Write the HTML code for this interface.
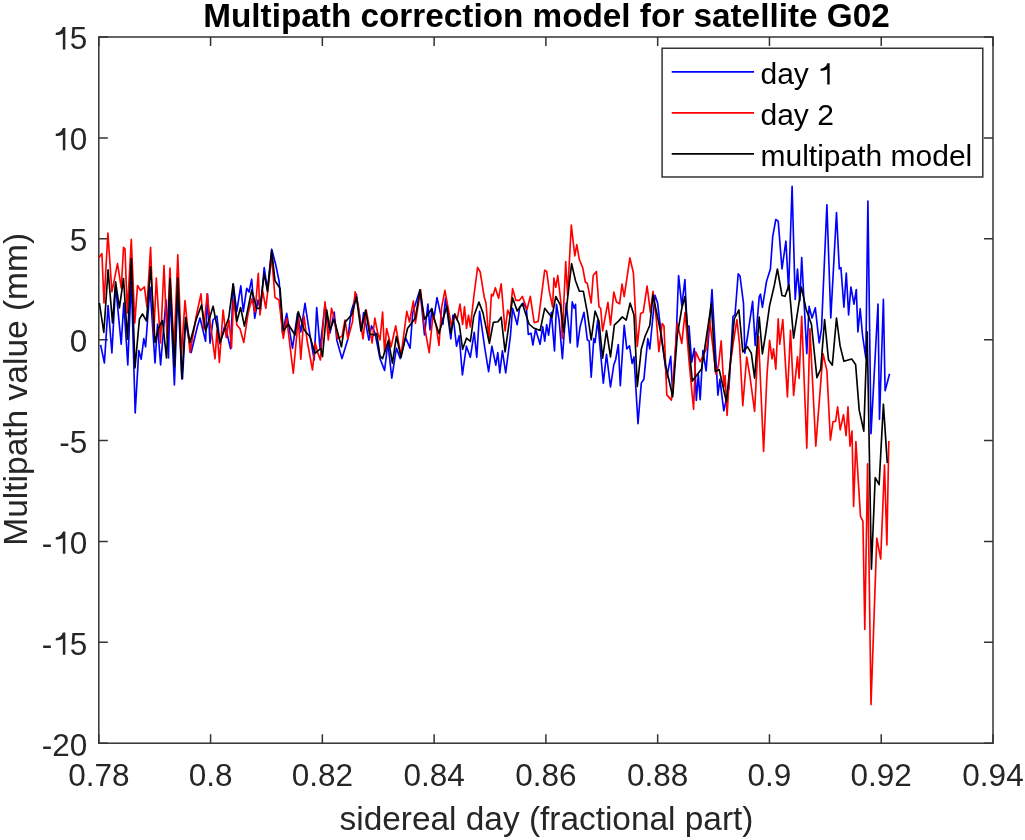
<!DOCTYPE html><html><head><meta charset="utf-8"><style>html,body{margin:0;padding:0;background:#fff;width:1025px;height:840px;overflow:hidden}svg{display:block;will-change:transform}</style></head><body><svg width="1025" height="840" viewBox="0 0 1025 840"><rect x="98.8" y="37.0" width="894.20" height="706.20" fill="none" stroke="#333333" stroke-width="1.5"/><path d="M98.80 743.2V734.2M98.80 37.0V46.0M210.58 743.2V734.2M210.58 37.0V46.0M322.35 743.2V734.2M322.35 37.0V46.0M434.13 743.2V734.2M434.13 37.0V46.0M545.90 743.2V734.2M545.90 37.0V46.0M657.67 743.2V734.2M657.67 37.0V46.0M769.45 743.2V734.2M769.45 37.0V46.0M881.23 743.2V734.2M881.23 37.0V46.0M993.00 743.2V734.2M993.00 37.0V46.0M98.8 743.20H107.8M993.0 743.20H984.0M98.8 642.31H107.8M993.0 642.31H984.0M98.8 541.43H107.8M993.0 541.43H984.0M98.8 440.54H107.8M993.0 440.54H984.0M98.8 339.66H107.8M993.0 339.66H984.0M98.8 238.77H107.8M993.0 238.77H984.0M98.8 137.89H107.8M993.0 137.89H984.0M98.8 37.00H107.8M993.0 37.00H984.0" fill="none" stroke="#333333" stroke-width="1.5"/><g font-family="Liberation Sans, sans-serif" font-size="31.5" fill="#262626"><text x="98.80" y="786" text-anchor="middle">0.78</text><text x="210.58" y="786" text-anchor="middle">0.8</text><text x="322.35" y="786" text-anchor="middle">0.82</text><text x="434.13" y="786" text-anchor="middle">0.84</text><text x="545.90" y="786" text-anchor="middle">0.86</text><text x="657.67" y="786" text-anchor="middle">0.88</text><text x="769.45" y="786" text-anchor="middle">0.9</text><text x="881.23" y="786" text-anchor="middle">0.92</text><text x="993.00" y="786" text-anchor="middle">0.94</text><text x="41.78" y="755.60">-</text><text x="52.27" y="755.60">2</text><text x="69.79" y="755.60">0</text><text x="41.78" y="654.71">-</text><text x="69.79" y="654.71">5</text><text x="41.78" y="553.83">-</text><text x="69.79" y="553.83">0</text><text x="59.30" y="452.94">-</text><text x="69.79" y="452.94">5</text><text x="69.79" y="352.06">0</text><text x="69.79" y="251.17">5</text><text x="69.79" y="150.29">0</text><text x="69.79" y="49.40">5</text></g><path d="M65.34 632.38L65.34 654.71L62.82 654.71L62.82 638.81C61.09 640.07 58.26 640.38 55.74 640.38L55.74 638.18C59.20 637.86 62.04 635.81 62.82 632.38ZM65.34 531.50L65.34 553.83L62.82 553.83L62.82 537.92C61.09 539.18 58.26 539.50 55.74 539.50L55.74 537.29C59.20 536.98 62.04 534.93 62.82 531.50ZM65.34 127.95L65.34 150.29L62.82 150.29L62.82 134.38C61.09 135.64 58.26 135.95 55.74 135.95L55.74 133.75C59.20 133.43 62.04 131.39 62.82 127.95ZM65.34 27.07L65.34 49.40L62.82 49.40L62.82 33.49C61.09 34.75 58.26 35.07 55.74 35.07L55.74 32.86C59.20 32.55 62.04 30.50 62.82 27.07Z" fill="#262626"/><text x="546.5" y="26.8" text-anchor="middle" font-family="Liberation Sans, sans-serif" font-weight="bold" font-size="33.3" fill="#000">Multipath correction model for satellite G02</text><text x="546.5" y="829.6" text-anchor="middle" font-family="Liberation Sans, sans-serif" font-size="33.4" fill="#262626">sidereal day (fractional part)</text><text transform="translate(26.8 389.3) rotate(-90)" x="0" y="0" text-anchor="middle" font-family="Liberation Sans, sans-serif" font-size="33.5" fill="#262626">Multipath value (mm)</text><path d="M100.6 344.9 104.4 363.0 108.1 305.5 111.9 353.0 115.6 285.5 121.2 344.2 123.8 303.0 127.8 364.9 131.3 278.0 135.2 413.0 138.8 350.5 141.2 359.2 143.8 338.6 145.6 346.8 150.0 287.0 155.0 363.0 157.5 324.2 160.6 364.9 166.0 300.0 168.5 358.0 170.0 290.5 174.4 384.9 177.8 290.5 181.9 378.6 182.5 378.8 185.6 321.2 191.2 352.5 197.5 326.2 200.0 318.0 205.6 341.2 207.5 293.8 210.0 343.1 213.0 320.0 216.9 316.2 220.0 343.8 225.0 325.0 230.6 348.8 233.3 284.2 236.7 311.7 240.8 285.8 243.3 311.7 246.7 288.3 249.0 292.0 251.7 279.2 254.7 318.3 258.0 300.0 260.5 310.0 264.2 267.5 267.5 290.0 271.7 249.2 275.8 265.0 279.2 281.7 282.5 333.3 286.7 313.3 292.5 348.3 297.5 313.3 300.8 332.0 305.0 303.3 308.3 325.0 314.2 360.0 316.7 307.5 320.0 348.0 325.0 305.0 330.0 333.0 334.2 312.1 336.8 340.2 342.0 358.6 347.9 338.9 351.2 311.4 356.4 294.4 361.7 329.8 363.6 312.7 368.9 340.2 371.5 325.8 375.0 333.0 380.0 358.6 384.6 370.4 387.9 342.9 391.8 378.2 396.4 348.1 400.3 358.6 405.5 337.6 410.1 348.1 412.7 312.7 420.0 289.8 424.5 335.0 427.9 304.1 430.0 330.0 431.8 308.7 434.0 318.0 437.0 297.6 442.9 324.4 445.5 298.2 450.8 338.8 453.0 315.0 456.5 346.2 459.2 335.7 462.4 375.0 466.4 346.2 470.3 357.3 474.2 332.4 476.8 357.3 479.6 311.3 484.7 347.5 488.6 371.7 491.9 346.2 495.8 365.2 497.8 352.7 499.8 373.0 502.4 350.8 505.7 373.0 510.4 336.2 512.6 308.3 517.2 324.7 519.8 307.0 523.1 303.1 526.4 308.3 528.3 334.5 531.0 333.2 532.9 345.0 535.5 329.3 540.1 344.3 542.7 326.7 544.7 341.1 546.7 324.7 548.6 335.2 551.3 312.3 554.5 350.9 556.5 304.4 559.1 320.1 562.4 358.8 566.3 303.1 570.2 343.0 572.2 301.8 574.2 308.3 575.5 304.4 577.4 347.0 580.1 326.7 584.0 312.3 587.3 339.8 589.2 341.1 591.2 377.1 593.8 338.5 595.1 342.4 597.7 320.1 603.3 383.1 606.5 354.3 610.5 387.0 613.8 364.8 615.7 359.5 618.3 344.5 620.3 385.7 624.2 325.4 626.8 349.0 629.5 345.8 632.1 363.5 634.0 356.9 638.0 423.7 641.3 383.1 643.9 379.2 647.8 338.6 649.8 349.0 655.0 295.2 657.6 303.1 661.6 337.1 666.8 377.9 670.7 356.3 672.7 393.6 676.0 341.2 678.6 275.6 681.8 305.7 684.9 279.5 687.1 326.7 689.0 326.0 691.7 362.1 694.3 348.4 696.3 400.4 698.3 374.8 700.2 399.7 702.9 350.6 706.1 370.9 712.0 289.6 717.9 395.1 719.9 379.4 723.8 410.8 729.0 387.3 733.0 316.4 735.0 315.0 738.2 273.9 740.0 276.0 743.5 303.3 744.8 353.2 747.4 337.5 752.6 301.4 755.2 345.4 759.2 296.8 760.5 294.2 762.4 307.3 766.5 281.5 770.4 269.0 772.7 236.6 775.8 219.5 778.2 221.1 782.0 269.0 785.9 241.2 788.6 290.0 792.1 186.3 795.2 299.4 797.5 269.0 799.8 301.0 801.7 257.5 806.8 353.6 809.1 306.4 812.0 318.0 815.3 307.9 819.2 342.8 821.5 328.8 826.9 204.8 830.8 318.0 836.5 212.6 839.3 269.0 840.9 267.5 843.9 307.2 846.3 273.0 848.6 314.9 850.9 287.0 854.0 304.1 856.3 289.5 857.9 331.9 860.2 308.7 862.5 335.0 865.8 358.0 867.9 201.0 871.0 433.7 878.0 304.1 879.5 419.3 883.4 299.4 885.1 390.7 889.6 373.8" fill="none" stroke="#0000ff" stroke-width="1.65" stroke-linejoin="round"/><path d="M98.8 258.0 101.9 253.6 104.0 303.0 107.9 233.0 111.9 291.8 117.5 263.6 121.3 288.0 123.5 247.4 125.0 249.0 127.3 313.0 131.3 239.3 134.8 323.0 137.5 285.5 140.6 290.5 144.4 286.8 146.9 306.8 150.6 247.4 153.8 334.0 156.3 278.0 160.5 343.0 164.0 265.5 167.0 338.0 170.0 268.0 174.0 350.0 177.8 254.9 181.5 354.0 185.0 300.5 190.0 352.5 196.2 316.2 201.0 293.8 203.8 328.8 207.2 293.8 210.0 321.2 215.0 358.8 217.0 330.0 219.4 362.5 223.1 310.0 226.2 337.5 229.0 320.0 231.5 348.0 233.5 300.0 236.9 325.0 240.0 328.8 243.8 342.5 248.0 313.8 251.9 298.8 255.0 312.0 258.3 273.3 260.0 315.0 262.5 290.0 265.8 308.3 271.7 256.7 275.0 297.5 279.0 300.0 283.3 338.3 286.7 318.3 293.3 373.3 298.3 317.5 300.8 359.2 304.0 316.0 307.0 340.0 312.5 370.0 315.2 343.0 317.5 352.0 320.4 360.0 325.0 301.7 328.3 340.0 331.5 308.2 334.8 320.6 337.4 338.9 342.0 336.3 345.0 320.0 347.9 338.9 352.5 321.9 355.1 291.8 358.0 305.0 363.0 338.9 366.2 310.1 369.0 325.0 372.1 342.9 374.8 318.0 377.4 331.7 380.0 340.0 382.6 312.1 384.6 353.3 386.6 328.5 391.1 346.8 395.7 325.8 401.0 356.0 406.8 311.4 409.5 322.0 413.4 301.0 415.4 323.2 420.6 289.8 423.9 323.2 429.2 352.6 433.1 313.9 436.0 325.0 439.0 345.4 441.6 307.4 444.9 290.4 451.4 325.7 454.7 315.2 457.0 320.0 460.0 304.1 462.6 324.4 464.5 306.7 466.5 328.3 468.5 315.2 470.4 327.0 474.0 295.0 477.6 267.4 480.2 272.0 484.2 296.9 486.0 303.0 488.8 340.1 491.4 294.3 493.0 296.0 495.3 287.7 498.6 298.2 501.2 283.8 505.1 331.0 507.7 310.0 510.0 316.0 512.6 288.6 515.9 300.4 519.2 300.4 522.4 296.4 527.0 309.5 530.3 296.4 534.2 322.7 538.2 321.4 544.7 270.2 546.7 271.5 549.3 291.2 552.6 306.9 553.9 278.1 555.8 287.3 557.8 275.5 561.1 304.3 562.2 338.5 565.7 261.7 567.6 295.1 571.3 225.1 574.8 255.8 576.8 244.7 579.4 259.8 582.7 267.6 585.3 282.0 587.3 283.3 591.2 303.0 593.2 275.5 596.4 271.5 599.0 306.9 600.7 308.3 602.6 331.0 607.9 302.4 610.5 325.0 613.8 292.0 616.4 301.8 619.6 303.8 622.0 284.1 624.2 296.6 629.9 257.9 633.4 273.0 635.4 311.0 637.3 346.4 640.6 313.6 643.2 312.3 647.1 286.1 650.4 312.3 653.0 291.3 656.3 318.8 658.9 351.7 662.2 323.5 664.0 326.0 666.8 394.9 671.4 400.1 674.0 370.0 677.3 323.0 681.8 343.5 685.1 312.3 689.0 360.8 693.6 409.3 695.7 351.9 700.2 361.7 703.0 356.0 706.8 348.0 709.6 319.0 716.0 374.2 718.5 365.0 721.2 340.8 723.8 387.3 725.1 375.5 727.1 415.4 729.7 368.9 733.0 345.0 736.9 319.5 739.5 344.0 742.8 405.6 746.7 357.1 750.0 376.8 754.6 411.5 758.5 336.2 763.6 451.5 766.7 381.0 767.3 370.6 769.6 340.4 772.0 359.0 773.5 348.9 775.8 369.1 778.2 318.8 779.7 344.3 782.8 319.5 787.4 396.9 790.5 330.4 793.6 395.4 797.5 356.7 799.1 378.4 801.7 316.4 806.8 448.1 809.9 328.8 815.8 446.1 823.0 353.6 826.9 370.6 830.4 440.2 833.0 421.9 835.6 421.3 837.6 406.8 840.2 429.8 843.5 414.7 846.1 435.7 848.0 406.8 850.0 446.1 852.0 431.1 853.6 506.4 855.9 441.6 860.5 516.4 862.9 521.1 864.8 629.5 867.6 463.8 871.0 704.6 876.8 538.1 880.7 559.0 884.5 465.0 886.9 545.1 888.8 440.9" fill="none" stroke="#ff0000" stroke-width="1.65" stroke-linejoin="round"/><path d="M99.4 303.0 103.8 332.4 108.1 269.9 112.5 323.0 115.6 281.8 119.4 308.0 123.5 278.6 127.5 339.2 131.3 258.6 135.0 368.0 139.4 319.2 142.5 314.0 146.5 321.0 150.6 266.8 155.0 342.4 158.5 328.0 162.5 320.5 166.5 358.0 170.0 278.6 174.4 366.8 177.8 278.0 181.9 378.6 185.6 317.5 190.0 342.5 196.0 320.0 201.5 305.0 205.6 331.2 213.1 306.2 220.0 342.5 228.8 317.5 233.1 283.8 236.9 321.2 240.6 307.5 244.4 326.2 251.7 290.0 256.7 308.3 260.0 308.3 264.2 273.3 267.5 291.7 271.7 250.8 275.0 280.8 280.0 288.3 283.3 330.8 288.3 324.2 295.0 335.0 298.3 311.7 304.2 330.0 310.0 336.7 315.0 353.3 320.8 348.3 322.5 356.7 326.7 310.0 330.0 330.0 334.2 319.3 341.4 346.8 345.3 321.9 351.8 314.7 356.4 297.0 361.0 331.1 365.6 310.1 369.5 333.7 374.1 335.0 376.7 333.7 380.0 356.0 382.6 358.6 388.5 340.2 392.4 363.2 396.4 336.3 401.0 357.3 407.5 328.5 415.4 318.0 420.0 289.8 424.5 319.3 431.8 308.7 433.8 317.9 439.0 333.6 446.8 306.1 450.8 333.6 454.7 313.9 459.3 324.4 462.6 349.3 466.5 338.2 470.4 341.4 473.7 316.5 478.9 302.1 482.9 312.6 489.4 343.4 493.3 322.4 497.9 321.8 501.2 317.2 505.1 351.9 512.6 297.9 517.2 311.0 522.4 303.8 529.0 324.0 533.6 328.0 540.1 330.6 544.7 308.3 551.9 317.5 555.8 296.5 560.4 305.1 563.7 331.9 571.6 263.7 575.5 280.7 579.4 291.2 583.3 291.2 587.3 312.3 591.2 339.8 595.1 311.0 599.0 321.4 602.6 358.2 606.5 330.7 610.5 356.9 614.4 324.8 618.3 321.4 622.3 316.9 626.2 320.1 630.1 303.1 634.0 314.9 637.3 386.4 641.3 349.0 645.2 336.0 649.8 325.4 653.0 295.2 656.3 311.0 660.2 330.0 665.5 364.8 672.7 396.8 677.3 335.0 681.8 308.3 684.9 296.6 690.4 360.8 692.3 381.1 701.5 369.0 706.0 340.0 711.4 303.3 715.3 371.6 719.2 369.6 726.4 401.7 730.4 362.4 734.3 319.0 738.9 309.9 742.8 351.9 747.4 346.7 751.3 353.2 754.6 378.1 759.2 317.1 762.4 353.9 765.7 333.5 769.6 305.6 774.3 285.5 777.4 269.0 782.0 295.5 785.1 296.3 789.0 284.7 793.6 338.1 801.4 287.0 806.0 308.7 811.4 324.2 816.9 377.6 820.7 369.1 824.6 319.5 828.5 359.8 832.3 365.2 836.5 318.0 840.1 345.9 843.9 361.3 851.7 359.0 855.6 364.4 859.2 410.1 863.8 431.1 867.2 331.9 871.4 569.1 875.2 477.7 879.1 484.7 883.4 404.2 887.3 463.1" fill="none" stroke="#000000" stroke-width="1.65" stroke-linejoin="round"/><rect x="662.1" y="48.25" width="320.70" height="128.75" fill="#fff" stroke="#333333" stroke-width="1.5"/><path d="M671.7 71.90H754" stroke="#0000ff" stroke-width="1.7"/><text x="760.5" y="84.40" font-family="Liberation Sans, sans-serif" font-size="30" fill="#000">day</text><path d="M829.65 63.13L829.65 84.40L827.25 84.40L827.25 69.25C825.60 70.45 822.90 70.75 820.50 70.75L820.50 68.65C823.80 68.35 826.50 66.40 827.25 63.13Z" fill="#000"/><path d="M671.7 112.90H754" stroke="#ff0000" stroke-width="1.7"/><text x="760.5" y="125.40" font-family="Liberation Sans, sans-serif" font-size="30" fill="#000">day</text><text x="817.20" y="125.40" font-family="Liberation Sans, sans-serif" font-size="30" fill="#000">2</text><path d="M671.7 153.90H754" stroke="#000000" stroke-width="1.7"/><text x="760.5" y="166.40" font-family="Liberation Sans, sans-serif" font-size="30" fill="#000">multipath model</text></svg></body></html>
